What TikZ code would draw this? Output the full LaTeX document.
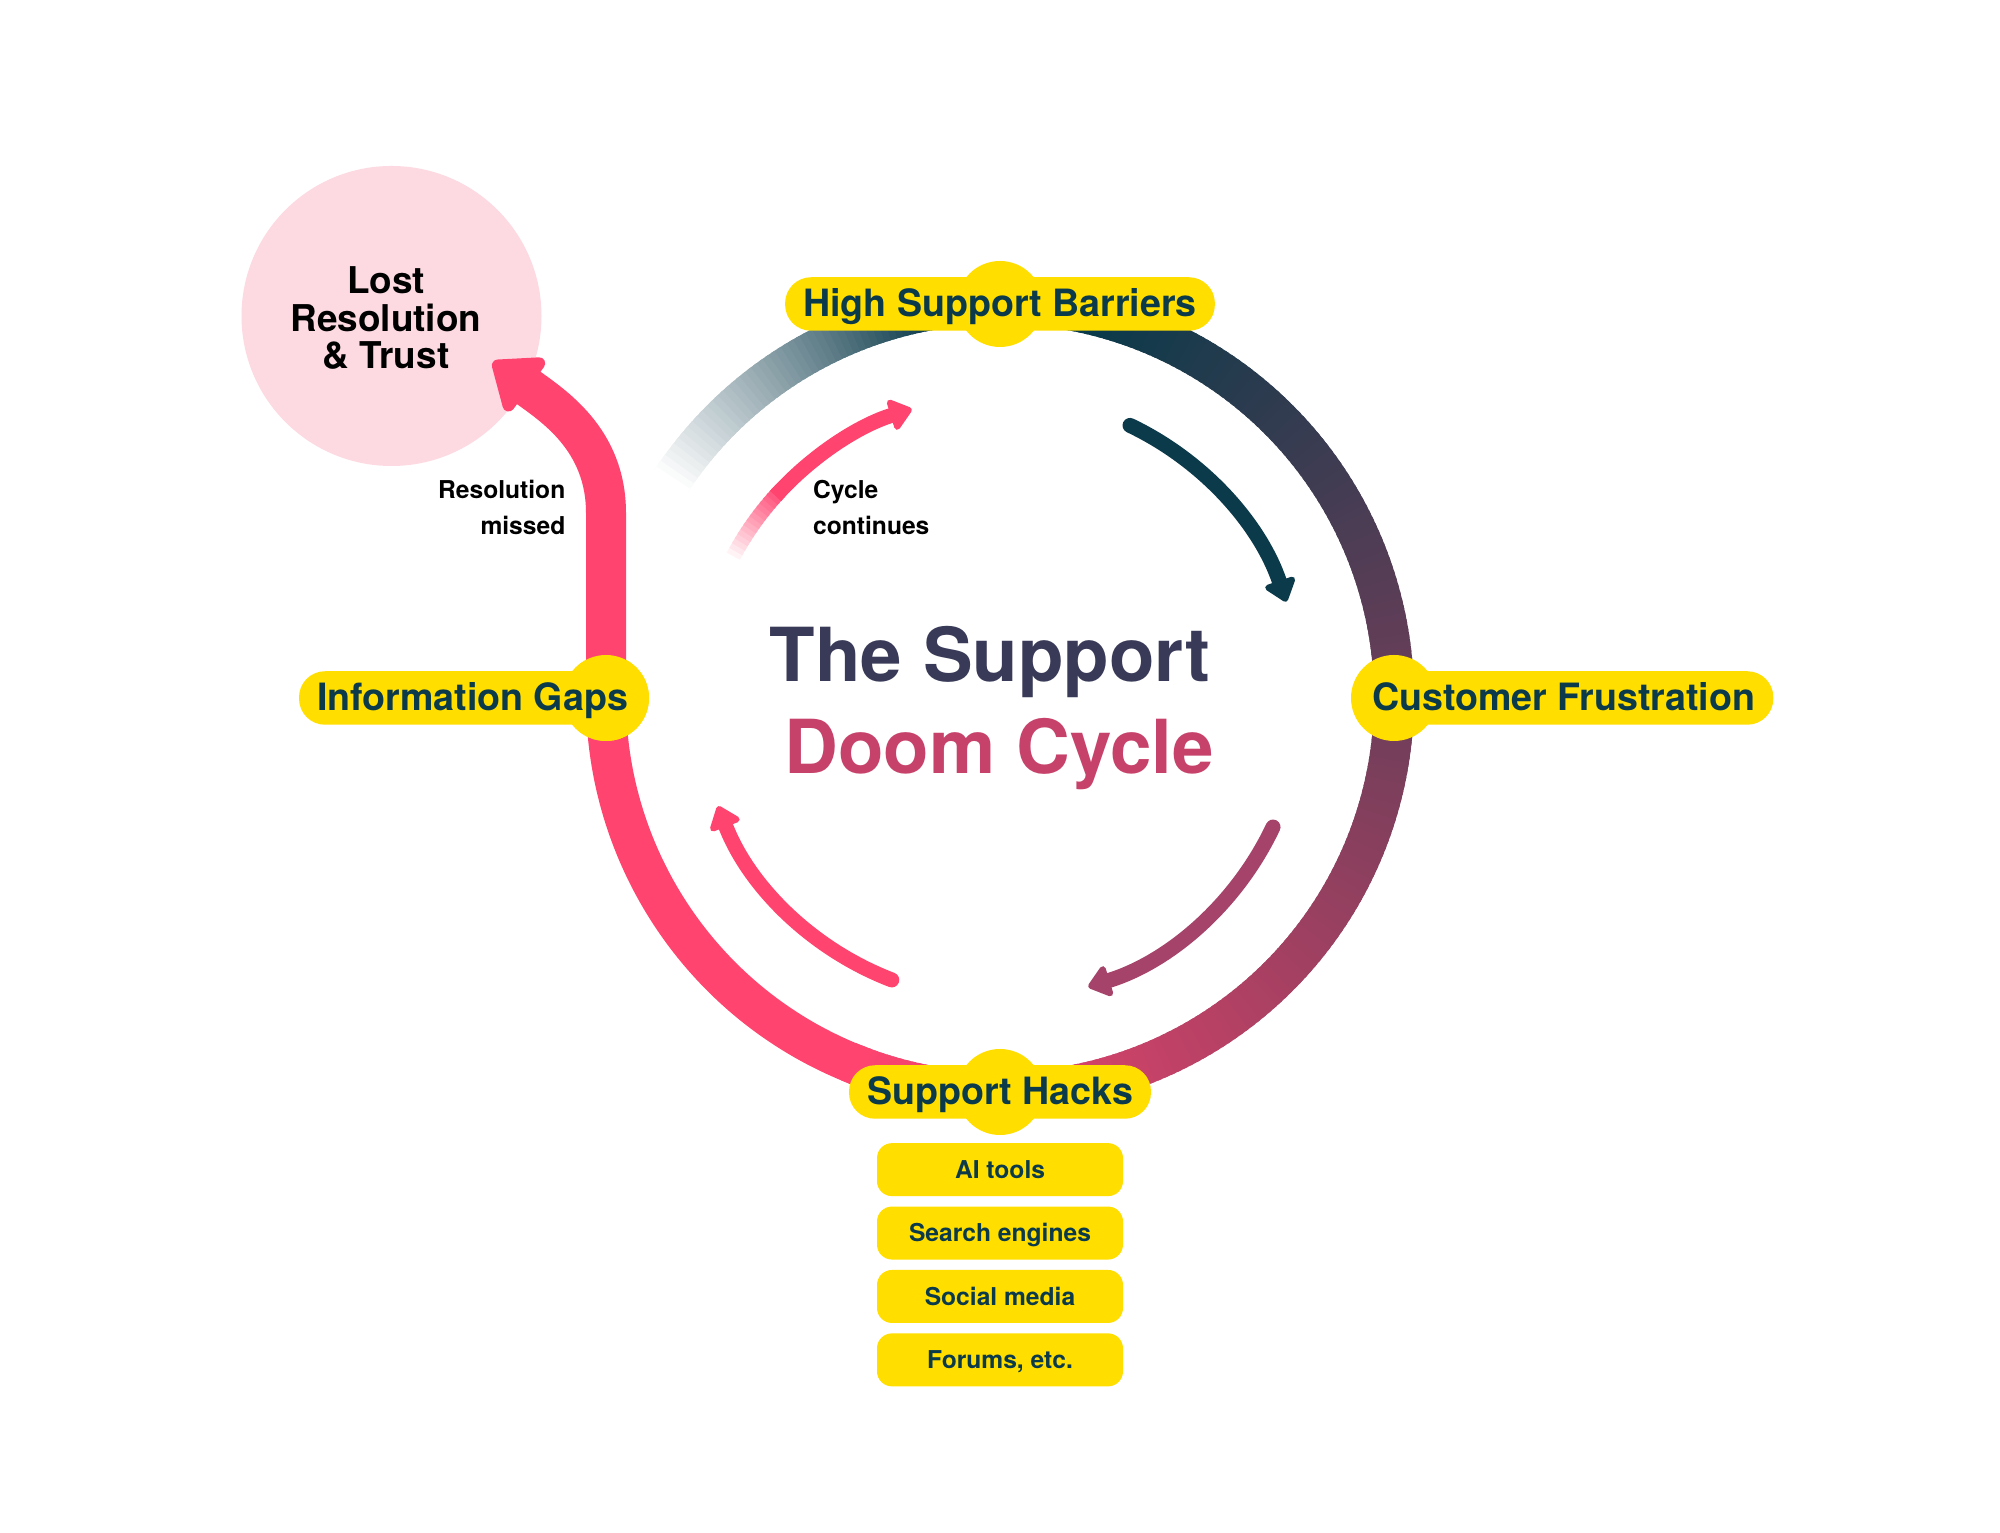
\documentclass[tikz,border=0pt]{standalone}
\usepackage{fontspec}
\setmainfont{TeX Gyre Heros}
\usetikzlibrary{arrows.meta,positioning}
\definecolor{gold}{HTML}{FFDE00}
\definecolor{deepteal}{HTML}{0B3A4A}
\definecolor{hotpink}{HTML}{FF4470}
\definecolor{plum}{HTML}{A5436A}
\definecolor{blush}{HTML}{FDDAE2}
\definecolor{navyplum}{HTML}{383A57}
\definecolor{rosered}{HTML}{C7426B}
\begin{document}
\begin{tikzpicture}[
  pill/.style={fill=gold, rounded corners=2.6mm, minimum height=5.35mm, inner xsep=1.8mm, inner ysep=0pt,
    text=deepteal, font=\fontsize{10.7}{12}\selectfont\bfseries, text height=0.7em, text depth=0pt},
  bump/.style={circle, fill=gold, minimum size=8.6mm, inner sep=0pt},
  hackbox/.style={fill=gold, rounded corners=1.5mm, minimum width=24.6mm, minimum height=5.3mm, inner sep=0pt,
    text=deepteal, font=\fontsize{7}{8}\selectfont\bfseries, text height=0.7em, text depth=0.2em},
  cyc/.style={line width=1.5mm, line cap=round, -{Triangle[width=3.6mm,length=2.4mm,round]}},
  note/.style={font=\fontsize{7}{10.5}\selectfont\bfseries, text=black, inner sep=0pt},
  headline/.style={font=\fontsize{21.2}{25}\selectfont\bfseries, anchor=base, inner sep=0pt}
]
\useasboundingbox (0,0) rectangle (20,15.33);
\fill[white] (0,0) rectangle (20,15.33);
\coordinate (C) at (10,8.35);
\coordinate (miss) at (4.93,11.71);

\foreach \a in {90,91,...,146}{
  \pgfmathsetmacro\f{max(0,min(100,(146-(\a))/0.46))}
  \draw[line width=4mm, draw=deepteal!\f!white] ([shift={(\a:3.94)}]C) arc[start angle=\a, end angle=\a+1.6, radius=3.94];
}
\foreach \a in {90,89,...,-111}{
  \pgfmathsetmacro\f{max(0,min(100,(75-(\a))/1.87))}
  \draw[line width=4mm, draw=hotpink!\f!deepteal] ([shift={(\a:3.94)}]C) arc[start angle=\a, end angle=\a-1.6, radius=3.94];
}
\draw[line width=4mm, hotpink] ([shift={(-110:3.94)}]C) arc[start angle=-110, end angle=-180, radius=3.94];

\node[circle, fill=blush, minimum size=3cm, align=center, font=\fontsize{10.5}{10.8}\selectfont\bfseries] (lost) at (3.915,12.17) {};
\node[align=center, font=\fontsize{10.5}{10.8}\selectfont\bfseries] (losttxt) at (3.86,12.15) {Lost\\Resolution\\\& Trust};

\node[bump] (bhigh) at ([shift={(90:3.94)}]C) {};
\node[bump] (bfrust) at ([shift={(0:3.94)}]C) {};
\node[bump] (bhacks) at ([shift={(-90:3.94)}]C) {};
\node[bump] (bgaps) at ([shift={(180:3.94)}]C) {};

\draw[line width=4mm, hotpink, -{Triangle[width=7.4mm,length=4.8mm,round]}] (bgaps.center) -- ++(0,1.85) to[out=90,in=-36] (miss);
\fill[gold] (bgaps) circle (4.3mm);

\node[pill] (high) at (bhigh) {High Support Barriers};
\node[pill, anchor=west] (frust) at ([xshift=0.3mm]bfrust.west) {Customer Frustration};
\node[pill] (hacks) at (bhacks) {Support Hacks};
\node[pill, anchor=east] (gaps) at ([xshift=-0.3mm]bgaps.east) {Information Gaps};

\node[hackbox, below=2.3mm of hacks] (ai) {AI tools};
\node[hackbox, below=0.9mm of ai] (search) {Search engines};
\node[hackbox, below=0.9mm of search] (social) {Social media};
\node[hackbox, below=0.9mm of social] (forums) {Forums, etc.};

\draw[cyc, deepteal] ([shift={(64.5:3.02)}]C) arc[start angle=64.5, end angle=18.6, radius=3.02];
\draw[cyc, plum] ([shift={(-25.3:3.02)}]C) arc[start angle=-25.3, end angle=-73, radius=3.02];
\draw[cyc, hotpink] ([shift={(-111:3.02)}]C) arc[start angle=-111, end angle=-159, radius=3.02];
\foreach \a in {152,151,...,138}{
  \pgfmathsetmacro\f{max(0,min(100,(153-(\a))/0.16))}
  \draw[line width=1.5mm, draw=hotpink!\f!white] ([shift={(\a:3.02)}]C) arc[start angle=\a, end angle=\a-1.5, radius=3.02];
}
\draw[cyc, hotpink, line cap=butt] ([shift={(138:3.02)}]C) arc[start angle=138, end angle=107, radius=3.02];

\node[note, align=right, anchor=east] (missed) at (5.66,10.255) {Resolution\\missed};
\node[note, align=left, anchor=west] (cont) at (8.125,10.255) {Cycle\\continues};

\node[headline, text=navyplum] (title1) at (9.90,8.51) {The Support};
\node[headline, text=rosered] (title2) at (9.99,7.59) {Doom Cycle};
\end{tikzpicture}
\end{document}
